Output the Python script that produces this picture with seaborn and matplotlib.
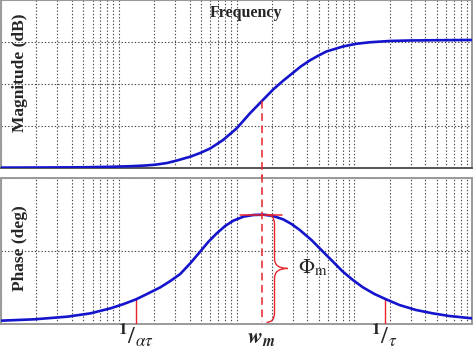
import numpy as np
import pandas as pd
import matplotlib
matplotlib.use("Agg")
import matplotlib.pyplot as plt
import matplotlib.transforms as mtransforms
from matplotlib.path import Path
from matplotlib.patches import PathPatch
from matplotlib.ticker import LogLocator, NullFormatter, MultipleLocator
import seaborn as sns

# ---------------- data ----------------
mag_freq = [0.01, 0.02178, 0.04748, 0.0851, 0.1256, 0.1683, 0.2046, 0.2570, 0.3119, 0.4046,
            0.4909, 0.5970, 0.7691, 1.004, 1.300, 1.652, 2.046, 2.472, 3.020, 3.512,
            4.183, 4.887, 5.794, 6.808, 7.998, 10.39, 13.46, 19.86, 29.31, 52.60, 100]
mag_db = [0.095, 0.119, 0.167, 0.286, 0.429, 0.595, 0.786, 1.190, 1.786, 2.690,
          3.571, 4.643, 6.667, 9.452, 13.02, 16.02, 18.69, 20.71, 22.69, 24.17,
          25.60, 26.67, 27.74, 28.33, 28.93, 29.57, 29.93, 30.24, 30.36, 30.43, 30.48]

phase_freq = [0.01, 0.01914, 0.03664, 0.05768, 0.08511, 0.1104, 0.1403, 0.1738, 0.2254, 0.2742,
              0.3327, 0.4046, 0.4909, 0.5781, 0.6792, 0.7998, 0.9397, 1.143, 1.387, 1.687,
              2.046, 2.489, 2.931, 3.443, 4.325, 5.420, 6.592, 7.998, 9.727, 11.83,
              14.83, 18.62, 24.15, 33.42, 46.24, 63.97, 100]
phase_deg = [2.05, 2.88, 4.52, 6.58, 9.66, 12.33, 15.21, 18.49, 22.60, 26.51,
             30.82, 37.40, 44.59, 50.75, 55.89, 60.41, 63.70, 66.16, 67.19, 67.40,
             66.58, 64.52, 61.64, 57.95, 51.78, 44.59, 38.42, 32.26, 27.12, 22.60,
             18.49, 15.21, 11.71, 8.63, 6.58, 4.93, 3.49]

corner_freq = [0.1406, 18.1]          # 1/(alpha*tau), 1/tau
corner_phase = [15.2, 15.2]
corner_labels = [r"$^{\mathbf{1}}/_{\alpha\tau}$", r"$^{\mathbf{1}}/_{\tau}$"]
w_m = 1.63
w_m_mag = 16.0
phase_max = 67.5
peak_span = [1.07, 2.43]
w_m_label = r"$\mathbfit{w}_{\mathbfit{m}}$"
phi_label = r"$\Phi_\mathrm{m}$"

BLUE = "#1414cc"
RED = "#e8242a"

sns.set_style("white")
plt.rcParams["font.family"] = ["Liberation Serif", "DejaVu Serif"]
plt.rcParams["mathtext.fontset"] = "stix"

fig = plt.figure(figsize=(4.74, 3.5), dpi=100)
ax1 = fig.add_axes([0.002, 0.52, 0.994, 0.48])
ax2 = fig.add_axes([0.002, 0.0743, 0.994, 0.4171])

df_mag = pd.DataFrame({"f": mag_freq, "m": mag_db})
df_ph = pd.DataFrame({"f": phase_freq, "p": phase_deg})

sns.lineplot(data=df_mag, x="f", y="m", ax=ax1, color=BLUE, lw=1.9, zorder=5)
sns.lineplot(data=df_ph, x="f", y="p", ax=ax2, color=BLUE, lw=1.9, zorder=5)

for ax in (ax1, ax2):
    ax.set_xscale("log")
    ax.set_xlim(0.01, 100)
    ax.xaxis.set_minor_locator(LogLocator(base=10, subs=range(2, 10), numticks=20))
    ax.xaxis.set_minor_formatter(NullFormatter())
    ax.grid(True, which="both", axis="x", ls=(0, (1.2, 1.8)), color="#444444", lw=0.8)
    ax.grid(True, which="major", axis="y", ls=(0, (1.2, 1.8)), color="#444444", lw=0.8)
    ax.tick_params(labelbottom=False, labelleft=False, length=0, which="both")
    ax.set_xlabel("")
    ax.set_ylabel("")
    for s in ax.spines.values():
        s.set_color("#9a9a9a")
        s.set_linewidth(1.4)

ax1.set_ylim(0, 40)
ax1.yaxis.set_major_locator(MultipleLocator(10))
ax1.spines["bottom"].set_color("#555555")
ax2.set_ylim(0, 90)
ax2.yaxis.set_major_locator(MultipleLocator(45))

# red dashed line at w_m
ax1.plot([w_m, w_m], [w_m_mag, -2.4], color=RED, lw=1.1, ls=(0, (5, 3)), clip_on=False, zorder=6)
ax2.plot([w_m, w_m], [92, 1.0], color=RED, lw=1.1, ls=(0, (5, 3)), clip_on=False, zorder=6)

# corner frequency markers
for f, p in zip(corner_freq, corner_phase):
    ax2.plot([f, f], [0, p], color=RED, lw=1.0, zorder=4)

# peak tangent
ax2.plot(peak_span, [phase_max, phase_max], color=RED, lw=1.1, zorder=6)

# curly brace
fig.canvas.draw()
xw = ax2.transAxes.inverted().transform(ax2.transData.transform((w_m, 0)))[0]
wpx = ax2.get_window_extent().width
def fx(dpx):
    return xw + dpx / wpx
yt, yb = phase_max, 1.0
ym = (yt + yb) / 2
r = 6.0
verts = [(fx(5), yt), (fx(13), yt), (fx(13), yt - r),
         (fx(13), ym + r),
         (fx(13), ym), (fx(26), ym),
         (fx(13), ym), (fx(13), ym - r),
         (fx(13), yb + r),
         (fx(13), yb), (fx(5), yb)]
codes = [Path.MOVETO, Path.CURVE3, Path.CURVE3,
         Path.LINETO,
         Path.CURVE3, Path.CURVE3,
         Path.CURVE3, Path.CURVE3,
         Path.LINETO,
         Path.CURVE3, Path.CURVE3]
trans = mtransforms.blended_transform_factory(ax2.transAxes, ax2.transData)
ax2.add_patch(PathPatch(Path(verts, codes), transform=trans, fill=False,
                        edgecolor=RED, lw=1.0, zorder=6))
ax2.text(fx(36), ym, phi_label, transform=trans, fontsize=15, va="center", ha="left")

# labels
fig.text(246 / 474, 1 - 13 / 350, "Frequency", ha="center", va="center",
         fontsize=11.5, fontweight="bold")
fig.text(20 / 474, 1 - 73 / 350, "Magnitude (dB)", rotation=90, ha="center",
         va="center", fontsize=12.5, fontweight="bold")
fig.text(20 / 474, 1 - 248 / 350, "Phase (deg)", rotation=90, ha="center",
         va="center", fontsize=12.5, fontweight="bold")

xt = mtransforms.blended_transform_factory(ax2.transData, fig.transFigure)
for f, lab in zip(corner_freq, corner_labels):
    ax2.text(f, 0.004, lab, transform=xt, ha="center", va="bottom", fontsize=17.5)
ax2.text(w_m, 0.006, w_m_label, transform=xt, ha="center", va="bottom", fontsize=16)

fig.savefig("out.png", dpi=100)
